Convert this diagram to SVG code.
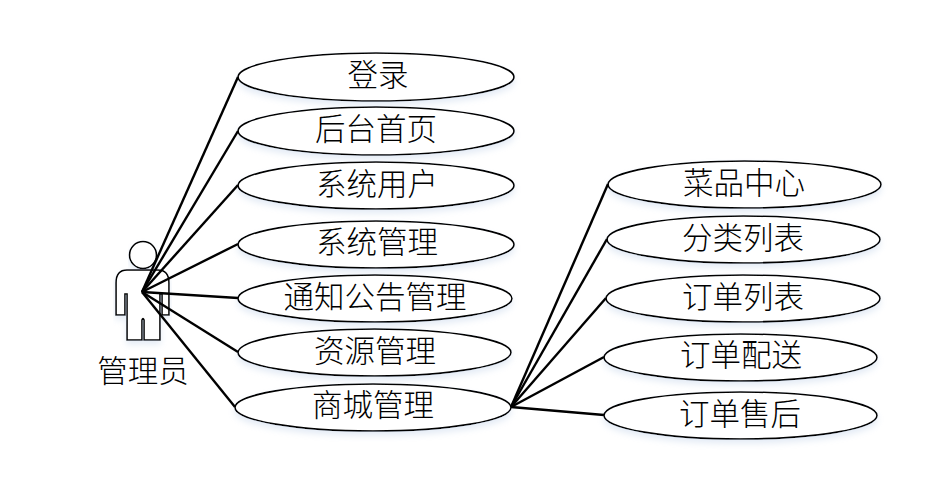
<svg xmlns="http://www.w3.org/2000/svg" width="946" height="486" viewBox="0 0 946 486">
<style>
.n ellipse{fill:#fff;stroke:#000;stroke-width:1.6;filter:url(#s)}
.n text,.a text{font-family:"Noto Sans CJK SC","Noto Sans CJK JP",serif;font-size:30.5px;font-weight:300;text-anchor:middle;fill:#000;dominant-baseline:central}
.c line{stroke:#000;stroke-width:2.4}
.a path,.a circle{fill:#fff;stroke:#000;stroke-width:1.6;filter:url(#s)}
</style>
<defs><filter id="s" x="-5%" y="-20%" width="110%" height="150%"><feDropShadow dx="0" dy="4" stdDeviation="3" flood-color="#c4d4ea" flood-opacity=".45"/></filter></defs>
<rect width="946" height="486" fill="#fff"/>
<g id="actor" class="a">
<circle cx="143" cy="255" r="13.500"/>
<path d="M127 270H158Q169 270 169 283V315H162V294H160V340H144V320Q143 317 142 320V340H127V294H125V315H116V283Q116 270 127 270Z"/>
<text x="143" y="369">管理员</text>
</g>
<g id="n1" class="n"><ellipse cx="376" cy="77" rx="138" ry="24"/><text x="378" y="73">登录</text></g>
<g id="n2" class="n"><ellipse cx="376" cy="131" rx="138" ry="24"/><text x="376" y="127">后台首页</text></g>
<g id="n3" class="n"><ellipse cx="376" cy="185.500" rx="138" ry="23.500"/><text x="377" y="182">系统用户</text></g>
<g id="n4" class="n"><ellipse cx="376" cy="244.500" rx="138" ry="23.500"/><text x="377" y="240">系统管理</text></g>
<g id="n5" class="n"><ellipse cx="375" cy="298.500" rx="137" ry="23.500"/><text x="375" y="295">通知公告管理</text></g>
<g id="n6" class="n"><ellipse cx="374.500" cy="352.500" rx="136.500" ry="23.500"/><text x="375" y="349">资源管理</text></g>
<g id="n7" class="n"><ellipse cx="373" cy="407.500" rx="138" ry="23.500"/><text x="373" y="403">商城管理</text></g>
<g id="n8" class="n"><ellipse cx="744.500" cy="184.500" rx="136.500" ry="23.500"/><text x="744" y="181">菜品中心</text></g>
<g id="n9" class="n"><ellipse cx="743.500" cy="239.500" rx="136.500" ry="23.500"/><text x="743" y="236">分类列表</text></g>
<g id="n10" class="n"><ellipse cx="743" cy="298.500" rx="137" ry="23.500"/><text x="743" y="295">订单列表</text></g>
<g id="n11" class="n"><ellipse cx="740.500" cy="357.500" rx="136.500" ry="23.500"/><text x="741" y="353">订单配送</text></g>
<g id="n12" class="n"><ellipse cx="740.500" cy="415.500" rx="136.500" ry="23.500"/><text x="740" y="412">订单售后</text></g>
<g id="connectors" class="c">
<line x1="142" y1="292" x2="238" y2="77"/>
<line x1="142" y1="292" x2="238" y2="131"/>
<line x1="142" y1="292" x2="238" y2="185"/>
<line x1="142" y1="292" x2="238" y2="244"/>
<line x1="142" y1="292" x2="238" y2="298"/>
<line x1="142" y1="292" x2="238" y2="352"/>
<line x1="142" y1="292" x2="235" y2="407"/>
<line x1="511" y1="407" x2="608" y2="184"/>
<line x1="511" y1="407" x2="607" y2="239"/>
<line x1="511" y1="407" x2="606" y2="298"/>
<line x1="511" y1="407" x2="604" y2="357"/>
<line x1="511" y1="407" x2="604" y2="415"/>
</g>
</svg>
